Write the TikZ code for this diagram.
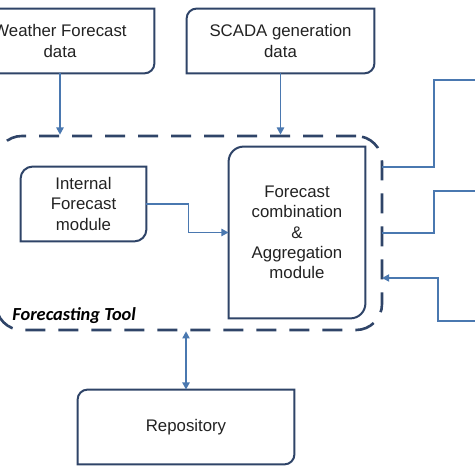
\documentclass[tikz,border=0pt]{standalone}
\usepackage{fontspec}
\setmainfont{Liberation Sans}
\newfontfamily\calfont{Carlito}
\usetikzlibrary{arrows.meta}
\definecolor{navy}{HTML}{2F4468}
\definecolor{connblue}{HTML}{4A78B0}
\definecolor{txt}{HTML}{222222}
% outline with rounded top-left and bottom-right corners
\newcommand\rdbox[2]{\draw[boxline] (#1.south west) -- ([yshift=-#2]#1.north west) arc[start angle=180,end angle=90,radius=#2] -- (#1.north east) -- ([yshift=#2]#1.south east) arc[start angle=0,end angle=-90,radius=#2] -- cycle;}
\begin{document}
\begin{tikzpicture}[x=0.5pt,y=0.5pt,
  box/.style={draw=none, inner sep=0pt, align=center, font=\fontsize{8.4}{10.2}\selectfont, text=txt},
  boxline/.style={draw=navy, line width=1pt},
  conn/.style={draw=connblue, line width=0.85pt},
  tip/.style={-{Triangle[length=3.6pt,width=3.6pt]}},
  dtip/.style={{Triangle[length=3.6pt,width=3.6pt]}-{Triangle[length=3.6pt,width=3.6pt]}},
  toolframe/.style={draw=navy, line width=1.3pt, dash pattern=on 10pt off 6.5pt, rounded corners=13pt, inner sep=0pt}]
\useasboundingbox (0,0) rectangle (474,474);
\fill[white] (0,0) rectangle (474,474);

\node[toolframe, minimum width=193pt, minimum height=97pt] (tool) at (189,241) {};
\node[font=\calfont\bfseries\itshape\fontsize{9.2}{10}\selectfont, text=black, anchor=base west, inner sep=0pt] (toollabel) at (12,153) {Forecasting Tool};

\node[box, minimum width=94pt, minimum height=32pt] (weather) at (60,433) {Weather Forecast\\data};
\node[box, minimum width=93.5pt, minimum height=32pt] (scada) at (280.5,433) {SCADA generation\\data};
\node[box, minimum width=62.5pt, minimum height=37pt] (internal) at (83.5,270) {Internal\\Forecast\\module};
\node[box, minimum width=68pt, minimum height=85.5pt] (combo) at (297,241.5) {Forecast\\combination\\\&\\Aggregation\\module};
\node[box, minimum width=108pt, minimum height=37pt] (repo) at (186,47) {Repository};

\rdbox{weather}{5pt}
\rdbox{scada}{5pt}
\rdbox{internal}{6pt}
\rdbox{combo}{7.5pt}
\rdbox{repo}{5pt}

\coordinate (r1) at (476,394);
\coordinate (r2) at (476,283);
\coordinate (r3) at (476,153);
\coordinate (t1) at (382,307);
\coordinate (t2) at (382,241);
\coordinate (t3) at (382,196);

\draw[conn,tip] (weather.south) -- (weather.south |- tool.north);
\draw[conn,tip] (scada.south) -- (scada.south |- tool.north);
\draw[conn,tip] (internal.east) -- ++(42,0) |- (combo.west);
\draw[conn] (r1) -- ++(-42,0) |- (t1);
\draw[conn] (r2) -- ++(-42,0) |- (t2);
\draw[conn,tip] (r3) -- ++(-38,0) |- (t3);
\draw[conn,dtip] (repo.north) -- (repo.north |- tool.south);
\end{tikzpicture}
\end{document}
